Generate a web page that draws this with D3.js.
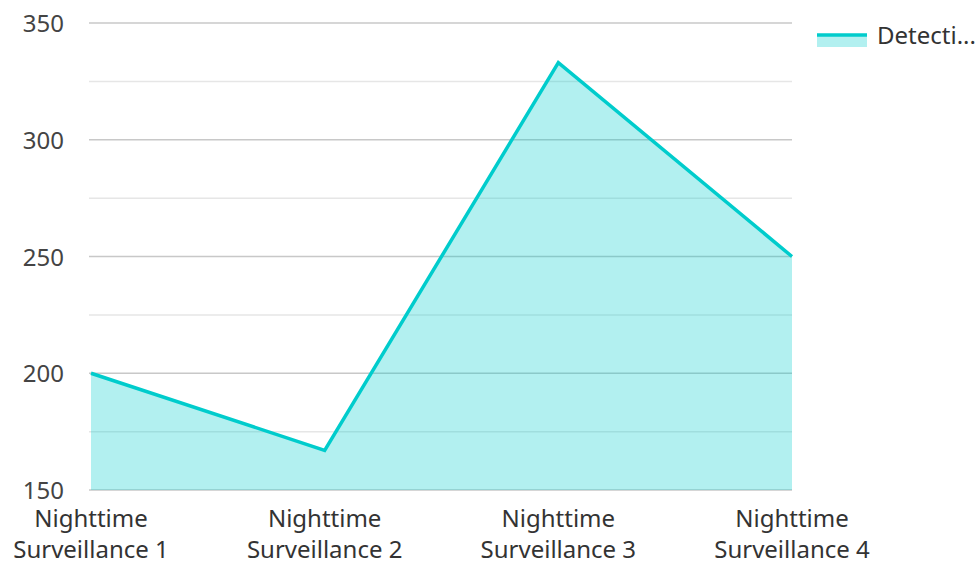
<!DOCTYPE html>
<html>
<head>
<meta charset="utf-8">
<script src="https://cdn.jsdelivr.net/npm/d3@7"></script>
<style>
  body { margin: 0; background: #fff; }
  svg { font-family: "Noto Sans", sans-serif; }
</style>
</head>
<body>
<svg width="979" height="562"></svg>
<script>
const categories = ["Nighttime Surveillance 1", "Nighttime Surveillance 2", "Nighttime Surveillance 3", "Nighttime Surveillance 4"];
const values = [200, 167, 333, 250];
const seriesName = "Detection";
const yTicks = [150, 200, 250, 300, 350];

const svg = d3.select("svg");
const plotLeft = 91, plotRight = 792, plotTop = 23, plotBottom = 490;

const x = d3.scalePoint().domain(categories).range([plotLeft, plotRight]);
const y = d3.scaleLinear().domain([150, 350]).range([plotBottom, plotTop]);

// grid
const minor = d3.range(150, 351, 25);
svg.append("g")
  .selectAll("line")
  .data(minor)
  .join("line")
  .attr("x1", plotLeft - 2)
  .attr("x2", plotRight)
  .attr("y1", (d) => y(d))
  .attr("y2", (d) => y(d))
  .attr("stroke", (d) => (d % 50 === 0 ? "#c8c8c8" : "#e6e6e6"))
  .attr("stroke-width", 1.5);

const data = categories.map((c, i) => ({ c, v: values[i] }));

svg.append("path")
  .datum(data)
  .attr("fill", "rgba(0,204,204,0.3)")
  .attr("d", d3.area().x((d) => x(d.c)).y0(y(150)).y1((d) => y(d.v)));

svg.append("path")
  .datum(data)
  .attr("fill", "none")
  .attr("stroke", "#00cccc")
  .attr("stroke-width", 3.5)
  .attr("stroke-linejoin", "miter")
  .attr("d", d3.line().x((d) => x(d.c)).y((d) => y(d.v)));

// y labels
svg.append("g")
  .selectAll("text")
  .data(yTicks)
  .join("text")
  .attr("x", 64)
  .attr("y", (d) => y(d) + 9)
  .attr("text-anchor", "end")
  .attr("font-size", 24)
  .attr("fill", "#444")
  .text((d) => d);

// x labels
const xl = svg.append("g")
  .selectAll("text")
  .data(categories)
  .join("text")
  .attr("text-anchor", "middle")
  .attr("font-size", 24)
  .attr("fill", "#333");
xl.append("tspan").attr("x", (d) => x(d)).attr("y", 527).text((d) => d.split(" ")[0]);
xl.append("tspan").attr("x", (d) => x(d)).attr("y", 558).text((d) => d.split(" ").slice(1).join(" "));

// legend
svg.append("rect").attr("x", 817).attr("y", 34).attr("width", 50).attr("height", 13).attr("fill", "rgba(0,204,204,0.3)");
svg.append("line").attr("x1", 817).attr("x2", 867).attr("y1", 35).attr("y2", 35).attr("stroke", "#00cccc").attr("stroke-width", 3.5);
svg.append("text").attr("x", 877).attr("y", 44).attr("font-size", 24).attr("fill", "#333")
  .text(seriesName.slice(0, 7) + "...");
</script>
</body>
</html>
